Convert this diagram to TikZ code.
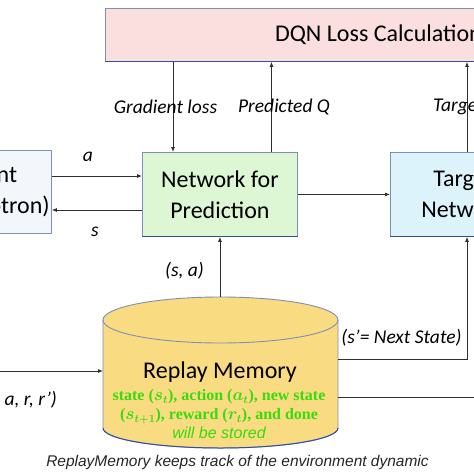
\documentclass[tikz,border=0pt]{standalone}
\usepackage{fontspec}
\setmainfont{Carlito}
\newfontfamily\arialf{Liberation Sans}
\newfontfamily\timesf{Liberation Serif}
\usetikzlibrary{arrows.meta}
\definecolor{pinkc}{HTML}{FBDEDE}
\definecolor{greenc}{HTML}{DDF6D3}
\definecolor{cyanc}{HTML}{DCF3FB}
\definecolor{agentc}{HTML}{F3F6FA}
\definecolor{cylc}{HTML}{F9DB82}
\definecolor{bordc}{HTML}{7C8FB5}
\definecolor{bordd}{HTML}{2F4FA0}
\definecolor{linec}{HTML}{2E2E2E}
\definecolor{gtextc}{HTML}{36DC0C}
\tikzset{
  box/.style={draw=bordc, line width=0.9pt, inner sep=0pt, anchor=north west, align=center,
    font=\fontsize{24}{31}\selectfont},
  edgeline/.style={draw=bordd, line width=1pt},
  arr/.style={draw=linec, line width=0.8pt, -{Latex[length=5pt,width=4pt]}},
  plainline/.style={draw=linec, line width=0.8pt},
  lab/.style={font=\fontsize{19.5}{23}\selectfont\itshape, text=black, inner sep=0pt},
}
\begin{document}
\begin{tikzpicture}[x=1pt,y=1pt]
\useasboundingbox (0,-474) rectangle (474,0);
\clip (0,-474) rectangle (474,0);
\fill[white] (0,-474) rectangle (474,0);

% boxes
\node[box, fill=pinkc, minimum width=546, minimum height=53] (dqn) at (105,-8) {DQN Loss Calculation};
\node[box, fill=agentc, minimum width=126, minimum height=83] (agent) at (-75,-150) {Agent\\(Perceptron)};
\node[box, fill=greenc, minimum width=155, minimum height=84] (pred) at (142,-152) {Network for\\Prediction};
\node[box, fill=cyanc, minimum width=146, minimum height=84] (target) at (390,-152) {Target\\Network};
\draw[edgeline] (dqn.south west) -- (dqn.south east);
\draw[edgeline] (pred.south west) -- (pred.south east);
\draw[edgeline] (target.south west) -- (target.south east);

% cylinder (replay memory)
\node[inner sep=0pt, minimum width=235, minimum height=151, anchor=north west] (rm) at (103,-297) {};
\filldraw[fill=cylc, draw=bordc, line width=0.9pt]
  (103,-320) -- (103,-428) arc (180:360:117.5pt and 20pt) -- (338,-320) arc (0:180:117.5pt and 23pt) -- cycle;
\draw[draw=bordd, line width=1pt] (103,-428) arc (180:360:117.5pt and 20pt);
\draw[draw=bordc, line width=0.9pt] (103,-320) arc (180:360:117.5pt and 23pt);
\node[inner sep=0pt, font=\fontsize{24}{29}\selectfont] (rmt) at (220,-372) {Replay Memory};
\node[inner sep=0pt, align=center, text=gtextc, font=\timesf\bfseries\boldmath\fontsize{16}{19}\selectfont] (gt) at (219,-414)
  {state ($s_t$), action ($a_t$), new state\\($s_{t+1}$), reward ($r_t$), and done\\{\arialf\mdseries\itshape will be stored}};

% caption
\node[inner sep=0pt, text=black!85, font=\arialf\itshape\fontsize{15.5}{18}\selectfont] (cap) at (237.5,-462)
  {ReplayMemory keeps track of the environment dynamic};

% coordinates
\coordinate (gx) at (173,0);
\coordinate (px) at (271.5,0);
\coordinate (tx) at (467,0);
\coordinate (ay) at (0,-176);
\coordinate (sy) at (0,-210);
\coordinate (ny) at (0,-359);
\coordinate (oy) at (0,-397);
\coordinate (iy) at (0,-371);
\coordinate (inL) at (-5,-371);
\coordinate (outR) at (480,-397);

% connectors
\draw[arr] (gx |- dqn.south) -- (gx |- pred.north);
\draw[arr] (px |- pred.north) -- (px |- dqn.south);
\draw[arr] (tx |- target.north) -- (tx |- dqn.south);
\draw[arr] (agent.east |- ay) -- (pred.west |- ay);
\draw[arr] (pred.west |- sy) -- (agent.east |- sy);
\draw[arr] (pred.east) -- (target.west);
\draw[arr] (rm.north -| pred.south) -- (pred.south);
\draw[arr] (rm.east |- ny) -| (tx |- target.south);
\draw[plainline] (rm.east |- oy) -- (outR);
\draw[arr] (inL) -- (rm.west |- iy);

% labels
\node[lab] (lgl) at (165.5,-107) {Gradient loss};
\node[lab] (lpq) at (284,-107) {Predicted Q};
\node[lab, anchor=west] (ltq) at (433,-107) {Target Q};
\node[lab] (la) at (88,-157) {a};
\node[lab] (ls) at (95,-232) {s};
\node[lab] (lsa) at (184.5,-271) {(s, a)};
\node[lab] (lns) at (401.5,-338) {(s'= Next State)};
\node[lab, anchor=east] (lar) at (57,-400) {(s, a, r, r')};
\end{tikzpicture}
\end{document}
